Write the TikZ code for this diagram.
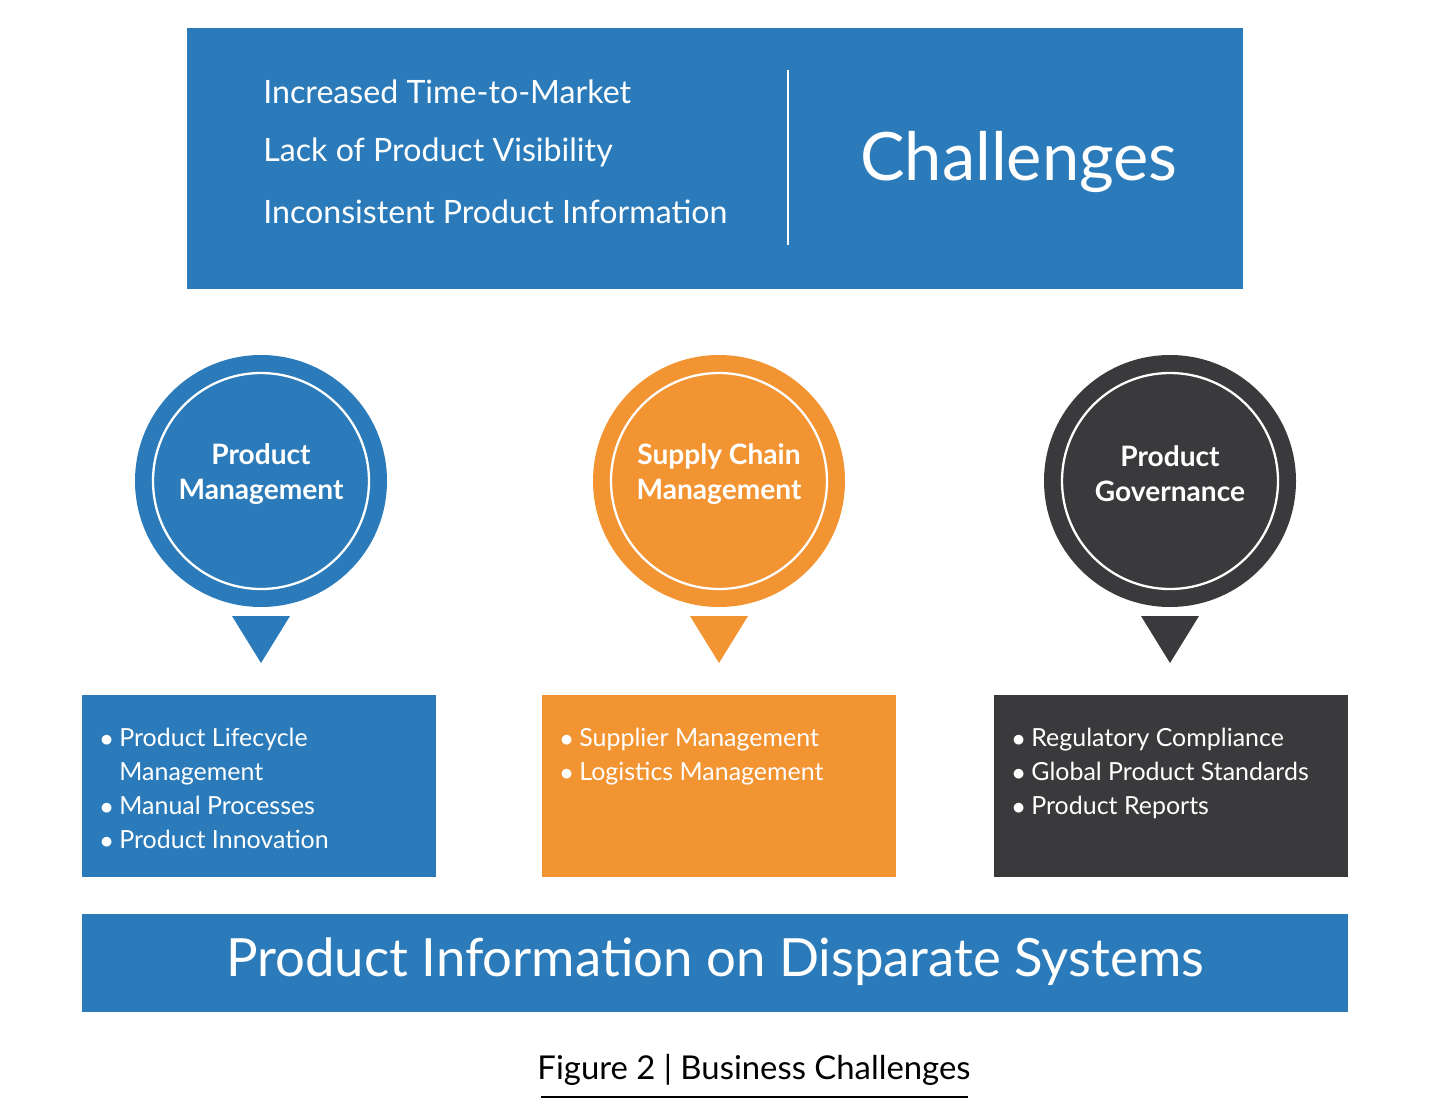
\documentclass[tikz,border=0pt]{standalone}
\usepackage{fontspec}
\setmainfont{Lato}
\usetikzlibrary{calc}
\definecolor{pblue}{HTML}{2B7BBA}
\definecolor{porange}{HTML}{F39433}
\definecolor{pdark}{HTML}{3A3A3C}
\begin{document}
\begin{tikzpicture}[x=0.02cm, y=-0.02cm]
\tikzset{box/.style={fill=#1,draw=none},
  item/.style={anchor=west,text=white,font=\fontsize{18.3}{22}\selectfont,inner sep=0},
  bul/.style={anchor=north west,text=white,align=left,inner sep=0,font=\fontsize{14.2}{19.3}\selectfont},
  lab/.style={text=white,align=center,font=\bfseries\fontsize{16}{20}\selectfont}}
\useasboundingbox (0,0) rectangle (1430,1119);

% challenges header
\fill[pblue] (187,28) rectangle (1243,289);
\node[item] (t1) at (263,92) {Increased Time-to-Market};
\node[item] (t2) at (263,152) {Lack of Product Visibility};
\node[item] (t3) at (263,212) {Inconsistent Product Information};
\draw[white,line width=0.8pt] (788,70) -- (788,245);
\node[text=white,font=\fontsize{38}{44}\selectfont] (ch) at (1019,162) {Challenges};

% three pins with boxes
\foreach \cx/\bx/\col/\txt/\items in {
  261/82/pblue/{Product\\Management}/{$\bullet$ Product Lifecycle\\\phantom{$\bullet$ }Management\\$\bullet$ Manual Processes\\$\bullet$ Product Innovation},
  719/542/porange/{Supply Chain\\Management}/{$\bullet$ Supplier Management\\$\bullet$ Logistics Management},
  1170/994/pdark/{Product\\Governance}/{$\bullet$ Regulatory Compliance\\$\bullet$ Global Product Standards\\$\bullet$ Product Reports}}{
  \fill[\col] (\cx,481) circle (126*0.02cm);
  \draw[white,line width=1.3pt] (\cx,481) circle (108*0.02cm);
  \node[lab] at (\cx,474) {\txt};
  \fill[\col] (\cx-29,616) -- (\cx+29,616) -- (\cx,663) -- cycle;
  \fill[\col] (\bx,695) rectangle (\bx+354,877);
  \node[bul] at (\bx+18,728) {\items};
}

% bottom bar
\fill[pblue] (82,914) rectangle (1348,1012);
\node[text=white,font=\fontsize{30}{34}\selectfont] (pi) at (715,962) {Product Information on Disparate Systems};

% caption
\node[font=\fontsize{18.7}{22}\selectfont] (cap) at (754,1070) {Figure 2 | Business Challenges};
\draw[line width=0.6pt] (541,1097) -- (968,1097);
\end{tikzpicture}
\end{document}
